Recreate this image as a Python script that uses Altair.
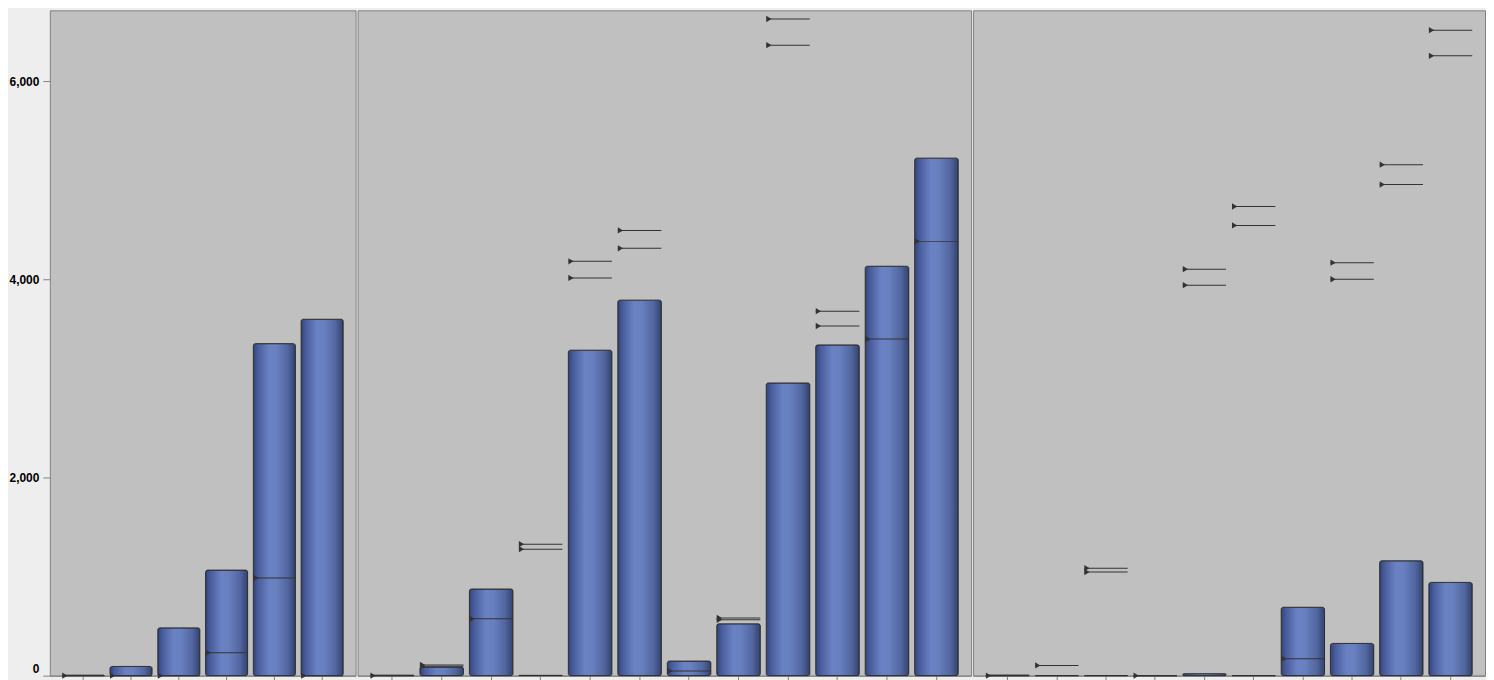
import altair as alt
import pandas as pd

# ---- data ----
panel1_cats = ["P1-1", "P1-2", "P1-3", "P1-4", "P1-5", "P1-6"]
panel1_values = [5, 93, 482, 1065, 3350, 3596]
panel1_upper = [0, 0, 0, 231, 985, 0]
panel1_lower = [None, None, None, None, None, None]

panel2_cats = ["P2-1", "P2-2", "P2-3", "P2-4", "P2-5", "P2-6",
               "P2-7", "P2-8", "P2-9", "P2-10", "P2-11", "P2-12"]
panel2_values = [5, 87, 874, 3, 3284, 3789, 147, 523, 2953, 3337, 4131, 5222]
panel2_upper = [0, 108, 573, 1327, 4181, 4492, 46, 583, 6626, 3678, 3397, 4382]
panel2_lower = [None, 95, None, 1276, 4013, 4312, None, 563, 6362, 3528, None, None]

panel3_cats = ["P3-1", "P3-2", "P3-3", "P3-4", "P3-5",
               "P3-6", "P3-7", "P3-8", "P3-9", "P3-10"]
panel3_values = [6, 0, 0, 0, 20, 0, 690, 325, 1159, 941]
panel3_upper = [0, 103, 1085, 0, 4101, 4734, 171, 4167, 5156, 6513]
panel3_lower = [None, None, 1045, None, 3940, 4543, None, 4000, 4955, 6254]

y_title = "Attendance"
y_ticks = [0, 2000, 4000, 6000]
Y_MAX = 6713

# ---- styling ----
PAD_IN = 0.12
PAD_OUT = 0.26
PLOT_H = 668
FONT = "Liberation Sans"

grad = alt.LinearGradient(
    gradient="linear", x1=0, x2=1, y1=0, y2=0,
    stops=[
        alt.GradientStop(color="#33447a", offset=0),
        alt.GradientStop(color="#4a5e9f", offset=0.12),
        alt.GradientStop(color="#6a82c3", offset=0.38),
        alt.GradientStop(color="#6880c0", offset=0.55),
        alt.GradientStop(color="#52669f", offset=0.82),
        alt.GradientStop(color="#32426f", offset=1),
    ],
)

y_axis = alt.Axis(
    values=y_ticks, format=",d", title=None, grid=False, domain=False,
    labelFont=FONT, labelFontSize=12, labelFontWeight="bold",
    labelColor="#000000",
    tickSize=7, tickColor="#808080", labelPadding=4, labelFlush=True,
)


def panel(cats, values, upper, lower, width, show_y):
    n = len(cats)
    bars_df = pd.DataFrame({"cat": cats, "value": values})
    mk_cat, mk_val = [], []
    for c, u, l in zip(cats, upper, lower):
        for v in (u, l):
            if v is not None:
                mk_cat.append(c)
                mk_val.append(v)
    mk_df = pd.DataFrame({"cat": mk_cat, "value": mk_val})

    xscale = alt.Scale(paddingInner=PAD_IN, paddingOuter=PAD_OUT)
    x = alt.X("cat:N", sort=cats, scale=xscale,
              axis=alt.Axis(labels=False, title=None, grid=False,
                            tickSize=4, tickColor="#808080",
                            domainColor="#808080"))
    y = alt.Y("value:Q", scale=alt.Scale(domain=[0, Y_MAX], nice=False),
              axis=y_axis if show_y else None)

    bars = alt.Chart(bars_df).mark_bar(
        color=grad, stroke="#2e2e2e", strokeWidth=1, cornerRadius=2
    ).encode(x=x, y=y)

    bw = width * (1 - PAD_IN) / (n - PAD_IN + 2 * PAD_OUT)
    lines = alt.Chart(mk_df).mark_tick(
        color="#333333", thickness=1, size=bw, opacity=1
    ).encode(x=alt.X("cat:N", sort=cats), y=y)

    tris = alt.Chart(mk_df).mark_point(
        shape="M0,-1L1.67,0L0,1Z", filled=True, size=40,
        color="#333333", opacity=1, strokeWidth=0
    ).encode(x=alt.X("cat:N", sort=cats, bandPosition=0), y=y)

    layers = [bars, lines, tris]
    if show_y:
        title = alt.Chart(pd.DataFrame({"t": [y_title]})).mark_text(
            clip=True, align="left", baseline="bottom", font=FONT,
            fontSize=12, color="#111111"
        ).encode(text="t:N", x=alt.value(-42), y=alt.value(-4))
        layers.append(title)
    return alt.layer(*layers).properties(width=width, height=PLOT_H)


p1 = panel(panel1_cats, panel1_values, panel1_upper, panel1_lower, 307, True)
p2 = panel(panel2_cats, panel2_values, panel2_upper, panel2_lower, 616, False)
p3 = panel(panel3_cats, panel3_values, panel3_upper, panel3_lower, 514, False)

chart = alt.hconcat(p1, p2, p3, spacing=0).configure(
    background="#eeeeee",
    padding={"left": 0, "top": 0, "right": 0, "bottom": 0},
    view=alt.ViewConfig(stroke="#808080", strokeWidth=1, fill="#c0c0c0"),
)

chart.save("out.html", embed_options={"renderer": "svg", "actions": False})
